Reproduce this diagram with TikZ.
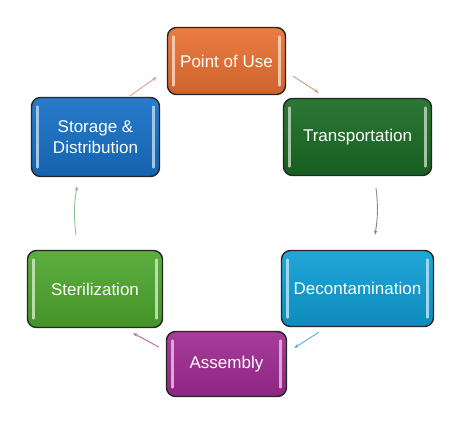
\documentclass[tikz,border=0pt]{standalone}
\usepackage{fontspec}
\setmainfont{Liberation Sans}
\usetikzlibrary{arrows.meta}
\definecolor{cPou}{HTML}{E97132}
\definecolor{cTra}{HTML}{196B24}
\definecolor{cDec}{HTML}{0F9ED5}
\definecolor{cAsm}{HTML}{A02B93}
\definecolor{cSte}{HTML}{4EA72E}
\definecolor{cSto}{HTML}{1670C6}
\definecolor{aPou}{HTML}{CC9A80}
\definecolor{aTra}{HTML}{7A927C}
\definecolor{aDec}{HTML}{5AAFCF}
\definecolor{aAsm}{HTML}{B06AA8}
\definecolor{aSte}{HTML}{8CC38A}
\definecolor{aSto}{HTML}{E0A088}
\tikzset{
  stagebox/.style={draw=black!85, line width=1.4pt, rounded corners=9pt,
    top color=#1!92!white, bottom color=#1!88!black,
    text=white, align=center, font=\fontsize{17}{21}\selectfont,
    path picture={
      \draw[#1!40!white, line width=2.2pt, line cap=round]
        ([xshift=6pt,yshift=-9pt]path picture bounding box.north west) --
        ([xshift=6pt,yshift=9pt]path picture bounding box.south west);
      \draw[#1!40!white, line width=2.2pt, line cap=round]
        ([xshift=-6pt,yshift=-9pt]path picture bounding box.north east) --
        ([xshift=-6pt,yshift=9pt]path picture bounding box.south east);
    }},
  flow/.style={draw=#1, line width=0.9pt, -{Stealth[length=4.5pt,width=3.5pt]}}
}
\begin{document}
\begin{tikzpicture}[x=1pt,y=-1pt]
\useasboundingbox[fill=white] (0,0) rectangle (474,424);
\node[stagebox=cPou, minimum width=118pt, minimum height=67pt] (pou) at (226.5,61) {Point of Use};
\node[stagebox=cTra, minimum width=148pt, minimum height=77pt] (tra) at (357.5,137) {Transportation};
\node[stagebox=cDec, minimum width=152pt, minimum height=76pt] (dec) at (357.5,288.5) {Decontamination};
\node[stagebox=cAsm, minimum width=120pt, minimum height=65pt] (asm) at (226.5,364) {Assembly};
\node[stagebox=cSte, minimum width=135pt, minimum height=77pt] (ste) at (95,289) {Sterilization};
\node[stagebox=cSto, minimum width=128pt, minimum height=79pt] (sto) at (95.5,137) {Storage \&\\Distribution};
\draw[flow=aPou] ([xshift=7pt,yshift=19pt]pou.south east) -- ([xshift=36pt,yshift=5pt]tra.north west);
\draw[flow=aTra] ([xshift=18.5pt,yshift=-12pt]tra.south) to[bend left=8] ([xshift=17.5pt,yshift=15pt]dec.north);
\draw[flow=aDec] ([xshift=38pt,yshift=-5pt]dec.south west) -- ([xshift=7pt,yshift=16pt]asm.east);
\draw[flow=aAsm] ([xshift=-7pt,yshift=17pt]asm.west) -- ([xshift=-30pt,yshift=-5pt]ste.south east);
\draw[flow=aSte] ([xshift=-19pt,yshift=15pt]ste.north) to[bend left=8] ([xshift=-18.5pt,yshift=-9pt]sto.south);
\draw[flow=aSto] ([xshift=-30pt,yshift=1pt]sto.north east) -- ([xshift=-10pt,yshift=-16pt]pou.west);
\end{tikzpicture}
\end{document}
